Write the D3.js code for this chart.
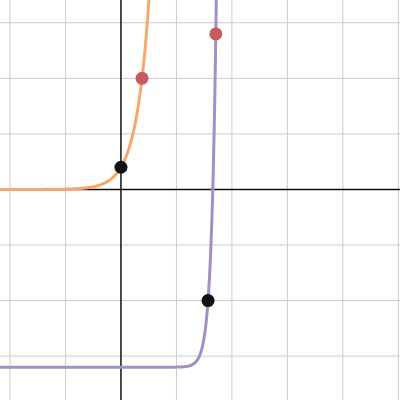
<!DOCTYPE html>
<html><head><meta charset="utf-8">
<script src="https://cdn.jsdelivr.net/npm/d3@7"></script>
<style>body{margin:0;background:#fff}</style>
</head><body>
<div id="chart"></div>
<script>
// domain of the graph (grid units)
const xDomain = [-2.18, 5.03];
const yDomain = [-3.79, 3.41];
const gridTicks = [-3, -2, -1, 0, 1, 2, 3, 4, 5];

// curve parameters: y = base + amp * exp(rate * (x - shift))
const orangeCurve = {base: 0, amp: 0.4, rate: 4.24, shift: 0, color: "#f8a66a"};
const purpleCurve = {base: -3.2, amp: 1.2, rate: 11.5, shift: 1.57, color: "#a48ec6"};

const blackPts = [[0, 0.4], [1.57, -2]];
const redPts = [[0.38, 2.0], [1.71, 2.8]];

const width = 400, height = 400;
const x = d3.scaleLinear().domain(xDomain).range([0, width]);
const y = d3.scaleLinear().domain(yDomain).range([height, 0]);

const svg = d3.select("#chart").append("svg")
    .attr("width", width).attr("height", height);

// grid
svg.selectAll(".vg").data(gridTicks.filter(d => d !== 0)).enter().append("line")
    .attr("x1", d => x(d)).attr("x2", d => x(d)).attr("y1", 0).attr("y2", height)
    .attr("stroke", "#ccc").attr("stroke-width", 1);
svg.selectAll(".hg").data(gridTicks.filter(d => d !== 0)).enter().append("line")
    .attr("y1", d => y(d)).attr("y2", d => y(d)).attr("x1", 0).attr("x2", width)
    .attr("stroke", "#ccc").attr("stroke-width", 1);

// axes
svg.append("line").attr("x1", x(0)).attr("x2", x(0)).attr("y1", 0).attr("y2", height)
    .attr("stroke", "#111").attr("stroke-width", 1.5);
svg.append("line").attr("y1", y(0)).attr("y2", y(0)).attr("x1", 0).attr("x2", width)
    .attr("stroke", "#111").attr("stroke-width", 1.5);

// curves
const xs = d3.range(xDomain[0], xDomain[1], 0.002);
[orangeCurve, purpleCurve].forEach(c => {
    const pts = xs.map(v => [v, c.base + c.amp * Math.exp(c.rate * (v - c.shift))])
        .filter(p => p[1] < yDomain[1] + 0.5);
    svg.append("path").datum(pts)
        .attr("d", d3.line().x(d => x(d[0])).y(d => y(d[1])))
        .attr("fill", "none").attr("stroke", c.color).attr("stroke-width", 3);
});

// points
svg.selectAll(".rp").data(redPts).enter().append("circle")
    .attr("cx", d => x(d[0])).attr("cy", d => y(d[1])).attr("r", 6.5)
    .attr("fill", "#c75c5c");
svg.selectAll(".bp").data(blackPts).enter().append("circle")
    .attr("cx", d => x(d[0])).attr("cy", d => y(d[1])).attr("r", 6.5)
    .attr("fill", "#111");
</script>
</body></html>
